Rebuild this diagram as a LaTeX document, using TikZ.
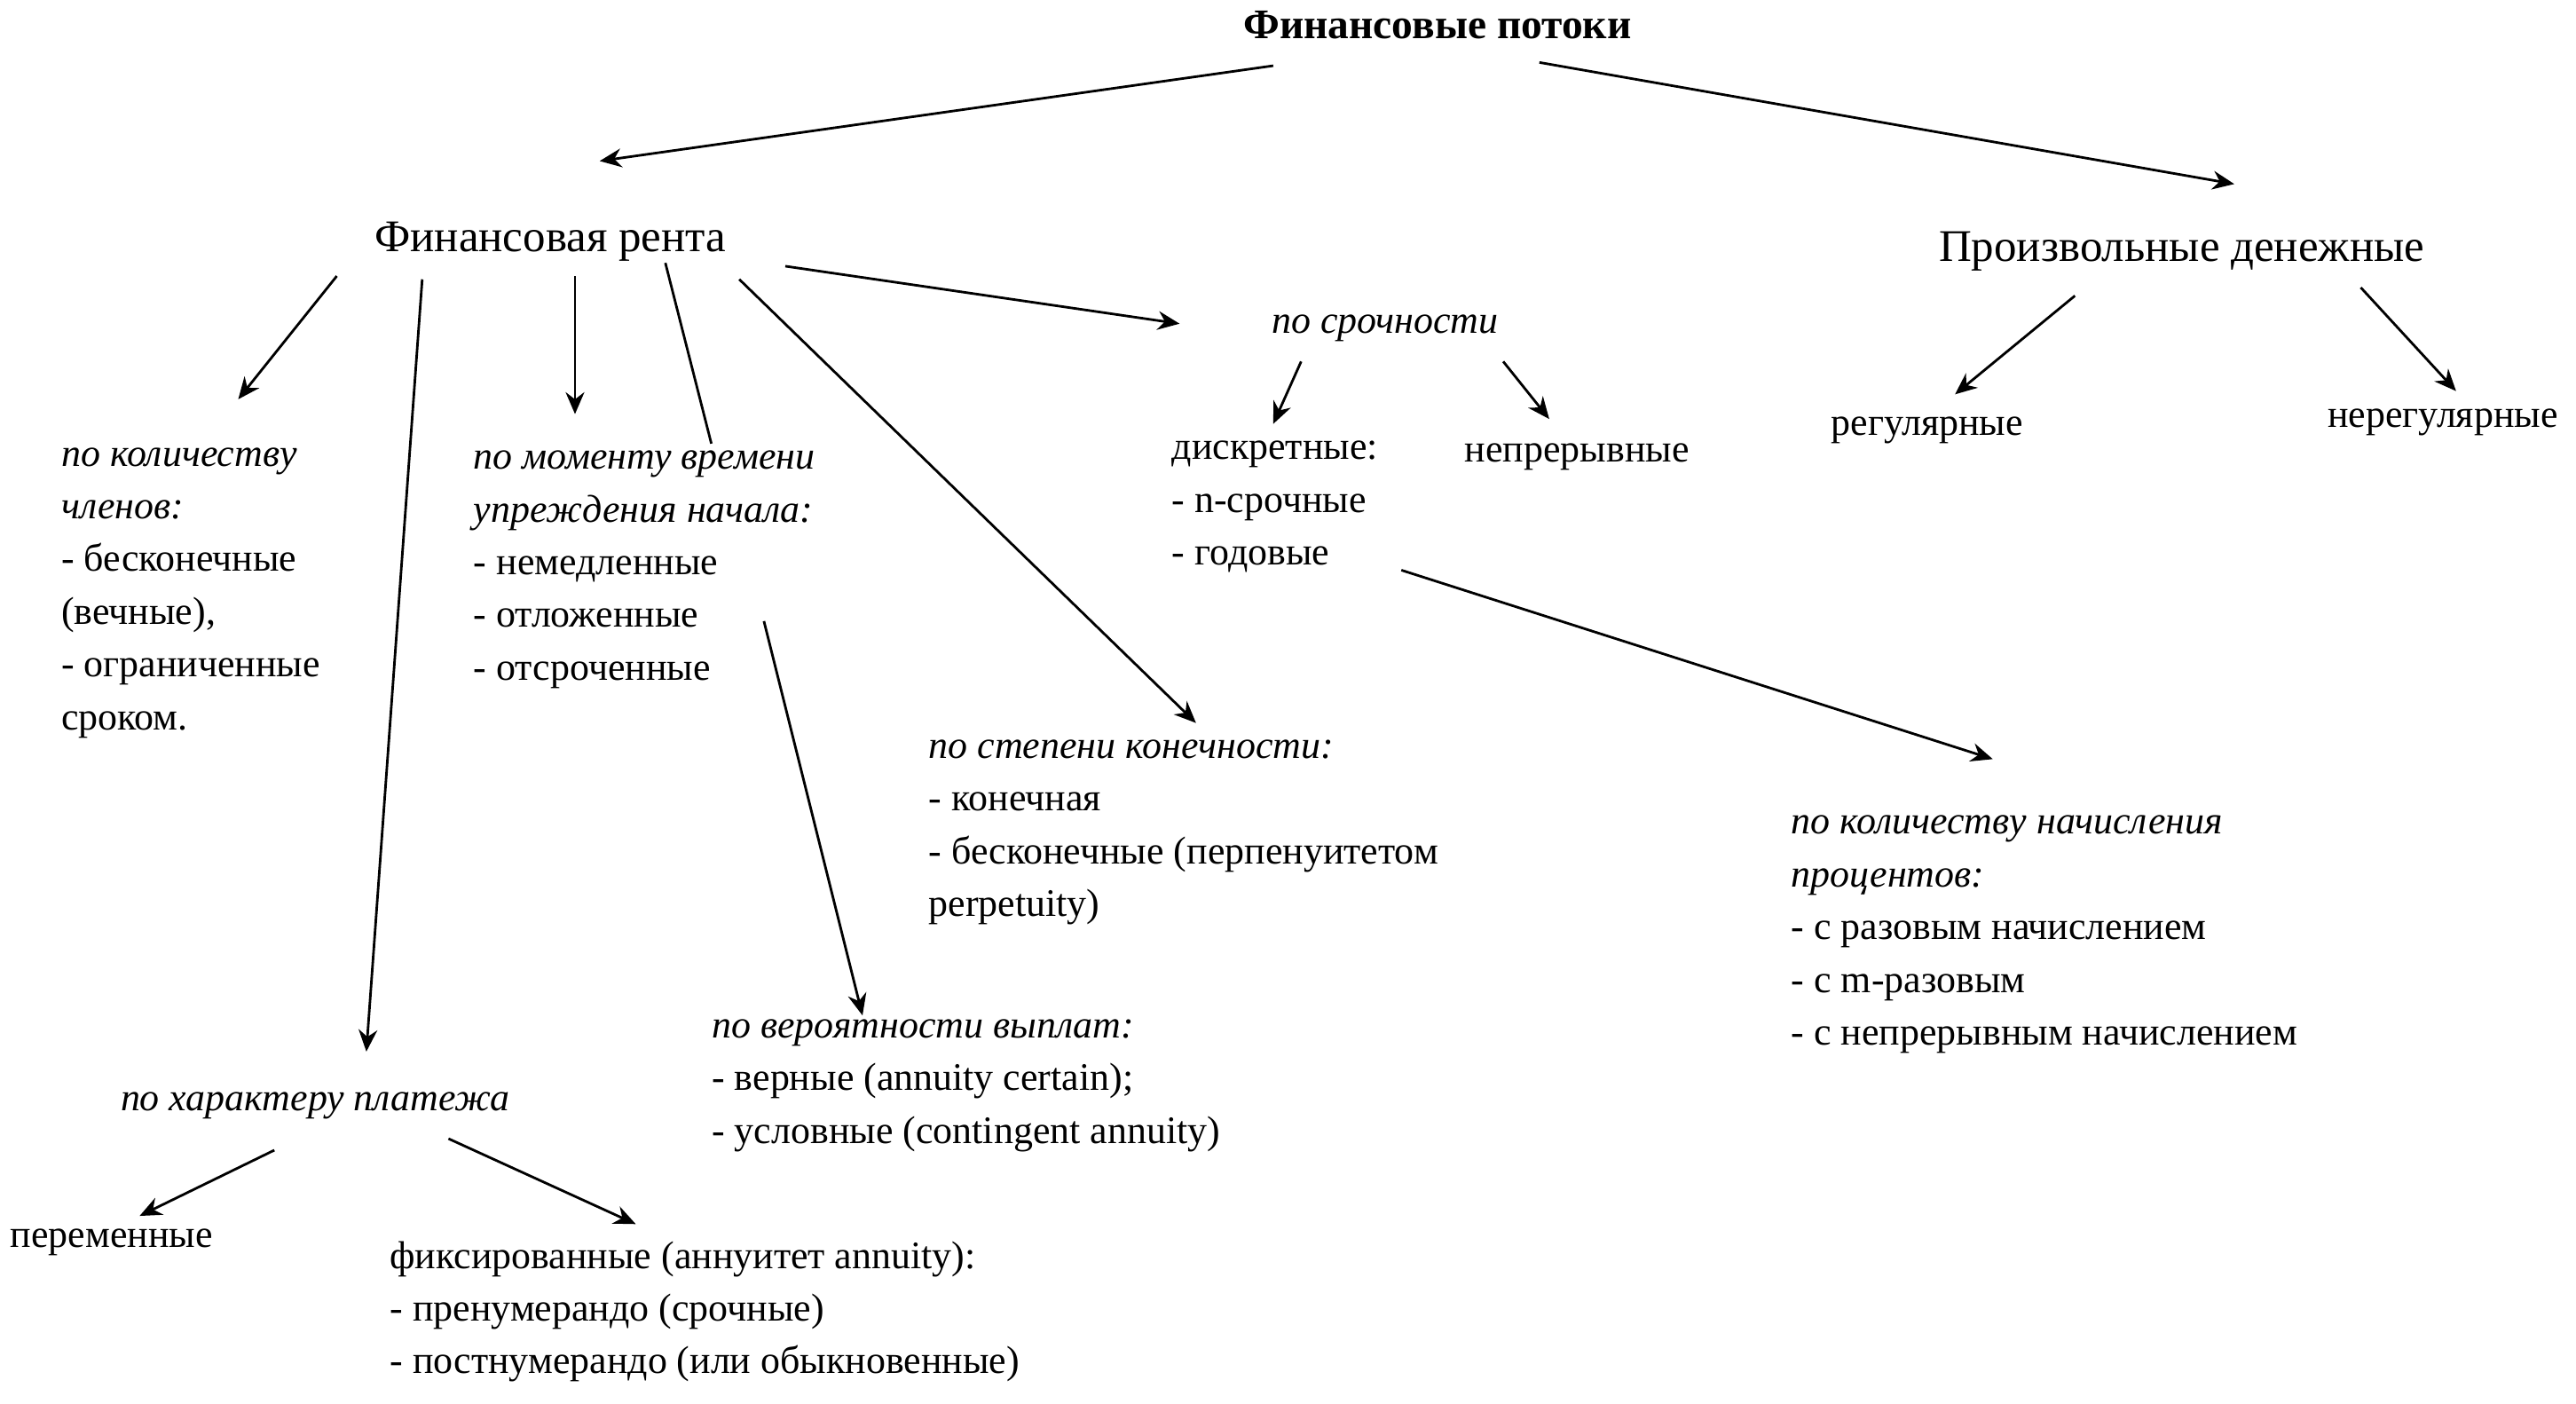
\documentclass[tikz,border=0pt]{standalone}
\usepackage{fontspec}
\setmainfont{Liberation Serif}
\usetikzlibrary{arrows.meta}
\begin{document}
\begin{tikzpicture}[x=0.018514cm, y=-0.018514cm]

    % Styles
    \tikzset{txt/.style={inner sep = 0pt, font = \fontsize{12.5}{16.9}\selectfont, align = left}}
    \tikzset{lst/.style={txt, anchor = north west}}
    \tikzset{big/.style={inner sep = 0pt, font = \fontsize{14.5}{17}\selectfont}}
    \tikzset{arr/.style={draw = black, thick, -{Stealth[length=7pt, width=6pt]}}}

    \useasboundingbox (0,0) rectangle (1568,854);

    % Top levels
    \node (top) [big, font = \bfseries\fontsize{13.5}{16}\selectfont] at (875,15) {Финансовые потоки};
    \node (rent) [big] at (335,147) {Финансовая рента};
    \node (arb) [big] at (1328,153) {Произвольные денежные};

    % Branches
    \node (term) [txt, font = \itshape\fontsize{12.5}{16}\selectfont] at (843,200) {по срочности};
    \node (disc) [lst] at (713,268) {дискретные:\\- n-срочные\\- годовые};
    \node (cont) [txt] at (960,278) {непрерывные};
    \node (reg) [txt] at (1173,262) {регулярные};
    \node (irr) [txt] at (1487,257) {нерегулярные};
    \node (memb) [lst] at (37,272) {\textit{по количеству}\\\textit{членов:}\\- бесконечные\\(вечные),\\- ограниченные\\сроком.};
    \node (mom) [lst] at (288,274) {\textit{по моменту времени}\\\textit{упреждения начала:}\\- немедленные\\- отложенные\\- отсроченные};
    \node (fin) [lst] at (565,450) {\textit{по степени конечности:}\\- конечная\\- бесконечные (перпенуитетом\\perpetuity)};
    \node (perc) [lst] at (1090,496) {\textit{по количеству начисления}\\\textit{процентов:}\\- с разовым начислением\\- с m-разовым\\- с непрерывным начислением};
    \node (prob) [lst] at (433,620) {\textit{по вероятности выплат:}\\- верные (annuity certain);\\- условные (contingent annuity)};
    \node (pay) [txt, font = \itshape\fontsize{12.5}{16}\selectfont] at (192,673) {по характеру платежа};
    \node (var) [txt] at (68,756) {переменные};
    \node (fix) [lst] at (237,755) {фиксированные (аннуитет annuity):\\- пренумерандо (срочные)\\- постнумерандо (или обыкновенные)};

    % Arrow ends
    \coordinate (t1) at (775,40);   \coordinate (t1e) at (365,98);
    \coordinate (t2) at (937,38);   \coordinate (t2e) at (1360,112);
    \coordinate (r1) at (205,168);  \coordinate (r1e) at (145,243);
    \coordinate (r2) at (350,168);  \coordinate (r2e) at (350,252);
    \coordinate (r3) at (405,160);  \coordinate (r3e) at (433,270);
    \coordinate (r4) at (257,170);  \coordinate (r4e) at (223,640);
    \coordinate (r5) at (450,170);  \coordinate (r5e) at (728,440);
    \coordinate (r6) at (478,162);  \coordinate (r6e) at (718,197);
    \coordinate (m1) at (465,378);  \coordinate (m1e) at (525,618);
    \coordinate (s1) at (792,220);  \coordinate (s1e) at (775,258);
    \coordinate (s2) at (915,220);  \coordinate (s2e) at (943,255);
    \coordinate (a1) at (1263,180); \coordinate (a1e) at (1190,240);
    \coordinate (a2) at (1437,175); \coordinate (a2e) at (1495,238);
    \coordinate (g1) at (853,347);  \coordinate (g1e) at (1213,462);
    \coordinate (p1) at (167,700);  \coordinate (p1e) at (85,740);
    \coordinate (p2) at (273,693);  \coordinate (p2e) at (387,745);

    % Connectors
    \foreach \s in {t1,t2,r1,r2,r4,r5,r6,m1,s1,s2,a1,a2,g1,p1,p2}
        \path[arr] (\s) -- (\s e);
    \draw[thick] (r3) -- (r3e);

\end{tikzpicture}
\end{document}
